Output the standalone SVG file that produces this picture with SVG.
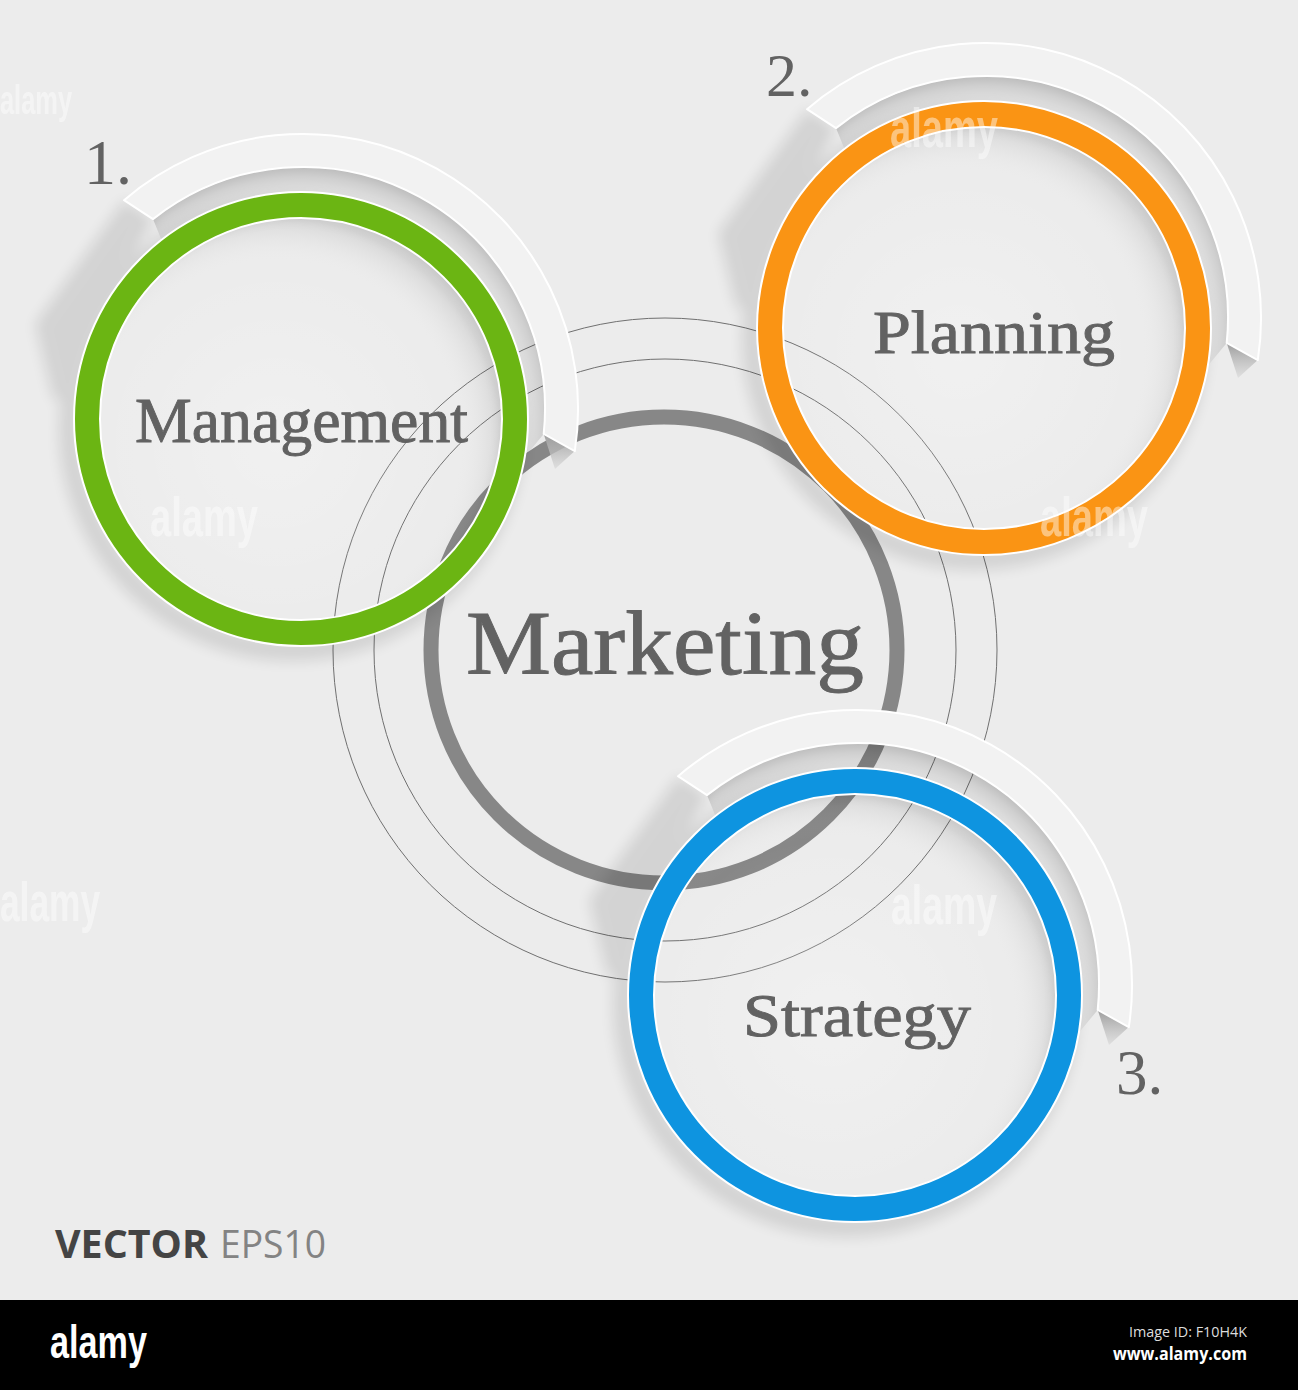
<svg xmlns="http://www.w3.org/2000/svg" width="1298" height="1390" viewBox="0 0 1298 1390">
<defs>
<style>
.lbl{font-family:"Liberation Serif","Times New Roman",serif;fill:#626262;stroke:#626262;stroke-width:0.9}
.num{font-family:"Liberation Serif","Times New Roman",serif;fill:#626262}
.wm{font-family:"Liberation Sans",Arial,sans-serif;font-weight:bold;fill:#ffffff;opacity:0.45}
.guide{fill:none;stroke:#707070;stroke-width:1}
.band{fill:#f2f2f2;stroke:#ffffff;stroke-width:2;stroke-linejoin:round}
.gap{fill:url(#gapGrad)}
.fold{fill:url(#foldGrad)}
.inner{fill:url(#innerGrad)}
.rimw{fill:none;stroke:#ffffff;stroke-width:28}
</style>
<filter id="blur" x="-30%" y="-30%" width="160%" height="160%"><feGaussianBlur stdDeviation="7"/></filter>
<radialGradient id="gapGrad" gradientUnits="userSpaceOnUse" cx="0" cy="0" r="252">
<stop offset="0.89" stop-color="#000" stop-opacity="0.03"/>
<stop offset="0.96" stop-color="#000" stop-opacity="0.12"/>
<stop offset="1" stop-color="#000" stop-opacity="0.2"/>
</radialGradient>
<linearGradient id="foldGrad" x1="0" y1="0" x2="0" y2="1">
<stop offset="0" stop-color="#9c9c9c"/>
<stop offset="1" stop-color="#d6d6d6" stop-opacity="0.6"/>
</linearGradient>
<radialGradient id="innerGrad" cx="0.44" cy="0.56" r="0.56">
<stop offset="0" stop-color="#fff" stop-opacity="0.25"/>
<stop offset="0.8" stop-color="#fff" stop-opacity="0"/>
<stop offset="1" stop-color="#000" stop-opacity="0.09"/>
</radialGradient>
<path id="bandShape" d="M -177,-218.8 A 275 275 0 0 1 273.8,32.1 L 242.7,14.9 A 242 242 0 0 0 -148,-199.9 Z"/>
<path id="gapShape" d="M -148,-199.9 A 242 242 0 0 1 242.7,14.9 L 222.6,39.2 A 226 226 0 0 0 -139.1,-178.1 Z"/>
<path id="foldShape" d="M 242.7,14.9 L 273.8,32.1 L 254,50 Z"/>
<g id="shadowShape">
<path d="M -177,-218.8 L -148,-200 L -185,-130 L -226,-20 L -248,-20 L -266,-95 Z"/>
<circle cx="-9" cy="9" r="222" fill="none" stroke="#000" stroke-width="22"/>
</g>
</defs>

<rect x="0" y="0" width="1298" height="1390" fill="#ececec"/>

<g id="guides">
<circle class="guide" cx="665" cy="650" r="332"/>
<circle class="guide" cx="665" cy="650" r="291"/>
</g>

<g id="node-marketing">
<circle cx="664" cy="650" r="233" fill="none" stroke="#878787" stroke-width="15"/>
<text class="lbl" x="466" y="674" font-size="90" textLength="398" lengthAdjust="spacingAndGlyphs">Marketing</text>
</g>

<g id="node-management" transform="translate(301,419)">
<use href="#shadowShape" filter="url(#blur)" opacity="0.1"/>
<use href="#gapShape" class="gap"/>
<circle class="inner" r="201"/>
<circle class="rimw" r="214"/>
<circle r="214" fill="none" stroke="#6bb513" stroke-width="24"/>
<use href="#foldShape" class="fold"/>
<use href="#bandShape" class="band"/>
</g>
<text class="lbl" x="135" y="442" font-size="64" textLength="333" lengthAdjust="spacingAndGlyphs">Management</text>
<text class="num" x="84" y="184" font-size="64">1.</text>

<g id="node-planning" transform="translate(984,328)">
<use href="#shadowShape" filter="url(#blur)" opacity="0.1"/>
<use href="#gapShape" class="gap"/>
<circle class="inner" r="201"/>
<circle class="rimw" r="214"/>
<circle r="214" fill="none" stroke="#fa9414" stroke-width="24"/>
<use href="#foldShape" class="fold"/>
<use href="#bandShape" class="band"/>
</g>
<text class="lbl" x="873" y="353" font-size="62" textLength="242" lengthAdjust="spacingAndGlyphs">Planning</text>
<text class="num" x="766" y="96" font-size="62">2.</text>

<g id="node-strategy" transform="translate(855,995)">
<use href="#shadowShape" filter="url(#blur)" opacity="0.1"/>
<use href="#gapShape" class="gap"/>
<circle class="inner" r="201"/>
<circle class="rimw" r="214"/>
<circle r="214" fill="none" stroke="#0e94e0" stroke-width="24"/>
<use href="#foldShape" class="fold"/>
<use href="#bandShape" class="band"/>
</g>
<text class="lbl" x="743" y="1036" font-size="62" textLength="228" lengthAdjust="spacingAndGlyphs">Strategy</text>
<text class="num" x="1116" y="1094" font-size="63">3.</text>

<g id="watermarks">
<text class="wm" x="0" y="114" font-size="40" textLength="72" lengthAdjust="spacingAndGlyphs">alamy</text>
<text class="wm" x="890" y="147" font-size="56" textLength="108" lengthAdjust="spacingAndGlyphs">alamy</text>
<text class="wm" x="150" y="536" font-size="56" textLength="108" lengthAdjust="spacingAndGlyphs">alamy</text>
<text class="wm" x="1040" y="536" font-size="56" textLength="108" lengthAdjust="spacingAndGlyphs">alamy</text>
<text class="wm" x="0" y="921" font-size="56" textLength="100" lengthAdjust="spacingAndGlyphs">alamy</text>
<text class="wm" x="891" y="924" font-size="56" textLength="106" lengthAdjust="spacingAndGlyphs">alamy</text>
</g>

<g id="caption">
<text x="55" y="1258" font-family="'Open Sans','Liberation Sans',sans-serif" font-weight="bold" font-size="39" fill="#444444" textLength="153" lengthAdjust="spacingAndGlyphs">VECTOR</text>
<text x="220" y="1258" font-family="'Open Sans','Liberation Sans',sans-serif" font-size="39" fill="#838383" textLength="106" lengthAdjust="spacingAndGlyphs">EPS10</text>
</g>

<g id="footer">
<rect x="0" y="1300" width="1298" height="90" fill="#000000"/>
<text x="50" y="1358" font-family="'Liberation Sans',Arial,sans-serif" font-weight="bold" font-size="46" fill="#ffffff" textLength="97" lengthAdjust="spacingAndGlyphs">alamy</text>
<text x="1247" y="1337" text-anchor="end" font-family="'Open Sans','Liberation Sans',sans-serif" font-size="15" fill="#dddddd" textLength="118" lengthAdjust="spacingAndGlyphs">Image ID: F10H4K</text>
<text x="1247" y="1360" text-anchor="end" font-family="'Open Sans','Liberation Sans',sans-serif" font-weight="bold" font-size="18" fill="#ffffff" textLength="134" lengthAdjust="spacingAndGlyphs">www.alamy.com</text>
</g>
</svg>
